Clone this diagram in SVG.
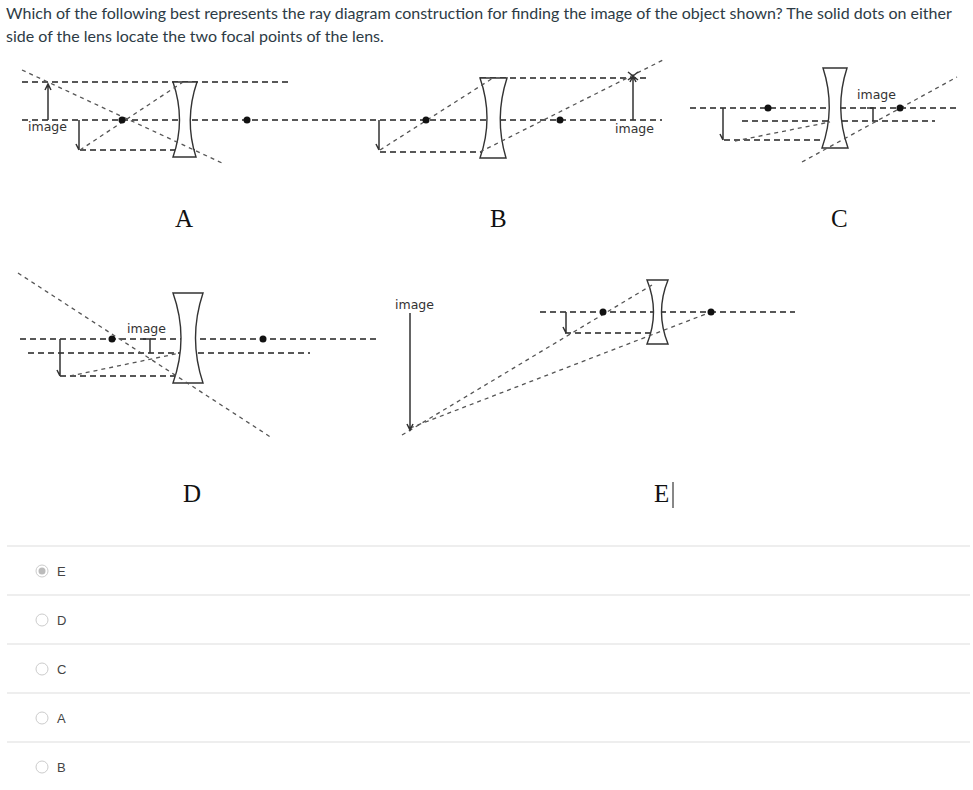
<svg xmlns="http://www.w3.org/2000/svg" width="973" height="790" viewBox="0 0 973 790">
<style>
.q{font-family:Lato,"Liberation Sans",sans-serif;font-size:16px;fill:#2d3b45}
.d{stroke:#222;stroke-width:1.6;stroke-dasharray:6,4;fill:none}
.r{stroke:#555;stroke-width:1.3;stroke-dasharray:4,4;fill:none}
.s{stroke:#333;stroke-width:1.5;fill:none}
.lens{stroke:#333;stroke-width:1.4;fill:#fff}
.im{font-family:"DejaVu Sans",sans-serif;font-size:12.5px;fill:#333}
.bg{fill:#fff}
.big{font-family:"Liberation Serif",serif;font-size:25px;fill:#111}
.opt{font-family:"Liberation Sans",sans-serif;font-size:13px;fill:#444}
.sep{stroke:#ddd;stroke-width:1}
.rad{fill:#fff;stroke:#ccc;stroke-width:1}
</style>
<rect width="973" height="790" fill="#fff"/>
<text class="q" x="6" y="19">Which of the following best represents the ray diagram construction for finding the image of the object shown? The solid dots on either</text>
<text class="q" x="6" y="42">side of the lens locate the two focal points of the lens.</text>

<g id="diagramA">
<line class="d" x1="22" y1="82" x2="288" y2="82"/>
<line class="d" x1="22" y1="120" x2="330" y2="120"/>
<line class="d" x1="80" y1="150" x2="195" y2="150"/>
<path class="lens" d="M173,82 H197 Q184,120 196,157 H173 Q186,120 173,82 Z"/>
<line class="r" x1="22" y1="70" x2="222" y2="163"/>
<line class="r" x1="80" y1="150" x2="183" y2="82"/>
<path class="s" d="M48,120 V84 M45,90 L48,84 L51,90"/>
<path class="s" d="M79,120 V150 M76,144 L79,150"/>
<circle cx="122" cy="120" r="3.5" fill="#111"/>
<circle cx="247" cy="120" r="3.5" fill="#111"/>
<rect class="bg" x="27" y="121" width="42" height="13"/>
<text class="im" x="28" y="131">image</text>
</g>

<g id="diagramB">
<line class="d" x1="480" y1="78" x2="650" y2="78"/>
<line class="d" x1="330" y1="120" x2="662" y2="120"/>
<line class="d" x1="380" y1="152" x2="505" y2="152"/>
<path class="lens" d="M480,78 H507 Q494,118 506,158 H480 Q494,118 480,78 Z"/>
<line class="r" x1="380" y1="150" x2="493" y2="78"/>
<line class="r" x1="480" y1="152" x2="663" y2="60"/>
<path class="s" d="M379,120 V150 M376,144 L379,150"/>
<path class="s" d="M633,120 V76 M630,82 L633,76 L636,82 M628,72 L638,80 M638,72 L628,80"/>
<circle cx="426" cy="120" r="3.5" fill="#111"/>
<circle cx="560" cy="120" r="3.5" fill="#111"/>
<rect class="bg" x="614" y="122" width="44" height="13"/>
<text class="im" x="615" y="133">image</text>
</g>

<g id="diagramC">
<line class="d" x1="690" y1="108" x2="960" y2="108"/>
<line class="d" x1="742" y1="121" x2="935" y2="121"/>
<line class="d" x1="724" y1="140" x2="822" y2="140"/>
<path class="lens" d="M823,68 H847 Q834,108 848,148 H822 Q836,108 823,68 Z"/>
<line class="r" x1="735" y1="141" x2="830" y2="122"/>
<line class="r" x1="802" y1="162" x2="957" y2="77"/>
<path class="s" d="M723,108 V140 M720,134 L723,140"/>
<path class="s" d="M867,108 H873 V121"/>
<circle cx="768" cy="108" r="3.5" fill="#111"/>
<circle cx="900" cy="108" r="3.5" fill="#111"/>
<text class="im" x="857" y="99">image</text>
</g>

<g id="diagramD">
<line class="d" x1="20" y1="339" x2="380" y2="339"/>
<line class="d" x1="28" y1="353" x2="310" y2="353"/>
<line class="d" x1="60" y1="376" x2="190" y2="376"/>
<path class="lens" d="M173,293 H203 Q188,338 203,383 H173 Q189,338 173,293 Z"/>
<line class="r" x1="18" y1="273" x2="272" y2="438"/>
<line class="r" x1="70" y1="376" x2="180" y2="353"/>
<path class="s" d="M60,339 V376 M57,370 L60,376"/>
<path class="s" d="M143,339 H150 V353"/>
<circle cx="112" cy="339" r="3.5" fill="#111"/>
<circle cx="263" cy="339" r="3.5" fill="#111"/>
<text class="im" x="127" y="333" font-size="14.5">image</text>
</g>

<g id="diagramE">
<line class="d" x1="540" y1="312" x2="795" y2="312"/>
<line class="d" x1="565" y1="333" x2="650" y2="333"/>
<path class="lens" d="M647,280 H668 Q655,312 668,344 H647 Q660,312 647,280 Z"/>
<line class="r" x1="402" y1="435" x2="652" y2="285"/>
<line class="r" x1="410" y1="428" x2="711" y2="312"/>
<path class="s" d="M566,312 V333 M563,327 L566,333"/>
<path class="s" d="M410,313 V430 M407,424 L410,430 L413,424"/>
<circle cx="603" cy="312" r="3.5" fill="#111"/>
<circle cx="711" cy="312" r="3.5" fill="#111"/>
<text class="im" x="395" y="309" font-size="11">image</text>
</g>

<text class="big" x="175" y="227">A</text>
<text class="big" x="490" y="227">B</text>
<text class="big" x="831" y="227">C</text>
<text class="big" x="183" y="502">D</text>
<text class="big" x="654" y="502">E</text>
<line x1="673" y1="482" x2="673" y2="508" stroke="#111" stroke-width="1"/>

<g id="options">
<line class="sep" x1="7" y1="546" x2="970" y2="546"/>
<line class="sep" x1="7" y1="595" x2="970" y2="595"/>
<line class="sep" x1="7" y1="644" x2="970" y2="644"/>
<line class="sep" x1="7" y1="693" x2="970" y2="693"/>
<line class="sep" x1="7" y1="742" x2="970" y2="742"/>
<circle class="rad" cx="42" cy="571" r="6"/><circle cx="42" cy="571" r="3.5" fill="#bbb"/>
<circle class="rad" cx="42" cy="620" r="6"/>
<circle class="rad" cx="42" cy="669" r="6"/>
<circle class="rad" cx="42" cy="718" r="6"/>
<circle class="rad" cx="42" cy="767" r="6"/>
<text class="opt" x="57" y="576">E</text>
<text class="opt" x="57" y="625">D</text>
<text class="opt" x="57" y="674">C</text>
<text class="opt" x="57" y="723">A</text>
<text class="opt" x="57" y="772">B</text>
</g>
</svg>
